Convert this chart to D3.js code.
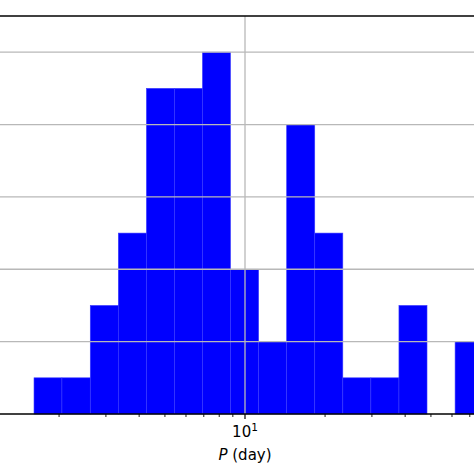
<!DOCTYPE html>
<html>
<head>
<meta charset="utf-8">
<script src="https://cdn.jsdelivr.net/npm/d3@7"></script>
<style>
  body { margin: 0; background: #fff; }
  svg { display: block; }
  text { font-family: "DejaVu Sans", sans-serif; fill: #000; }
</style>
</head>
<body>
<div id="chart"></div>
<script>
// log-spaced bin edges (days) and counts per bin
const binEdges = [1.61, 2.05, 2.62, 3.34, 4.26, 5.43, 6.92, 8.82, 11.25, 14.34, 18.29, 23.32, 29.73, 37.91, 48.33, 61.64, 78.6];
const counts = [1, 1, 3, 5, 9, 9, 10, 4, 2, 8, 5, 1, 1, 3, 0, 2];
const yTicks = [0, 2, 4, 6, 8, 10];
const majorTicks = [10];
const minorTicks = [2, 3, 4, 5, 6, 7, 8, 9, 20, 30, 40, 50, 60, 70];

const width = 474;
const height = 474;
const margin = { top: 16, bottom: 60 };

const bins = counts.map((c, i) => ({ x0: binEdges[i], x1: binEdges[i + 1], count: c }));

// visible window cuts the axes on left and right
const x = d3.scaleLog()
  .domain([10 * Math.pow(10, -245 / 266), 10 * Math.pow(10, 229 / 266)])
  .range([0, width]);

const y = d3.scaleLinear()
  .domain([0, 11])
  .range([height - margin.bottom, margin.top]);

const svg = d3.select("#chart")
  .append("svg")
  .attr("width", width)
  .attr("height", height);

// bars
svg.selectAll("rect.bar")
  .data(bins)
  .join("rect")
  .attr("class", "bar")
  .attr("x", d => x(d.x0))
  .attr("y", d => y(d.count))
  .attr("width", d => x(d.x1) - x(d.x0))
  .attr("height", d => y(0) - y(d.count))
  .attr("fill", "#0000ff")
  .attr("stroke", "#3a3aff")
  .attr("stroke-width", 0.6);

// grid on top of the bars
svg.selectAll("line.hgrid")
  .data(yTicks.filter(t => t > 0))
  .join("line")
  .attr("class", "hgrid")
  .attr("x1", 0)
  .attr("x2", width)
  .attr("y1", d => y(d))
  .attr("y2", d => y(d))
  .attr("stroke", "#b8b8b8")
  .attr("stroke-width", 1.3);

svg.selectAll("line.vgrid")
  .data(majorTicks)
  .join("line")
  .attr("class", "vgrid")
  .attr("x1", d => x(d))
  .attr("x2", d => x(d))
  .attr("y1", y(11))
  .attr("y2", y(0))
  .attr("stroke", "#b8b8b8")
  .attr("stroke-width", 1.3);

// frame: top and bottom spines
svg.append("line")
  .attr("x1", 0).attr("x2", width)
  .attr("y1", y(11)).attr("y2", y(11))
  .attr("stroke", "#000").attr("stroke-width", 1.5);

svg.append("line")
  .attr("x1", 0).attr("x2", width)
  .attr("y1", y(0)).attr("y2", y(0))
  .attr("stroke", "#000").attr("stroke-width", 1.5);

// ticks
svg.selectAll("line.major")
  .data(majorTicks)
  .join("line")
  .attr("class", "major")
  .attr("x1", d => x(d)).attr("x2", d => x(d))
  .attr("y1", y(0)).attr("y2", y(0) + 5)
  .attr("stroke", "#000").attr("stroke-width", 1.2);

svg.selectAll("line.minor")
  .data(minorTicks)
  .join("line")
  .attr("class", "minor")
  .attr("x1", d => x(d)).attr("x2", d => x(d))
  .attr("y1", y(0)).attr("y2", y(0) + 3)
  .attr("stroke", "#000").attr("stroke-width", 0.9);

// major tick label 10^1
const lbl = svg.selectAll("text.tick")
  .data(majorTicks)
  .join("text")
  .attr("class", "tick")
  .attr("x", d => x(d))
  .attr("y", y(0) + 23)
  .attr("text-anchor", "middle")
  .style("font-size", "15px");
lbl.append("tspan").text("10");
lbl.append("tspan").attr("dy", -6).style("font-size", "10.5px").text("1");

// axis label
const xl = svg.append("text")
  .attr("x", x(10))
  .attr("y", y(0) + 46)
  .attr("text-anchor", "middle")
  .style("font-size", "15px");
xl.append("tspan").style("font-style", "italic").text("P");
xl.append("tspan").text(" (day)");
</script>
</body>
</html>
